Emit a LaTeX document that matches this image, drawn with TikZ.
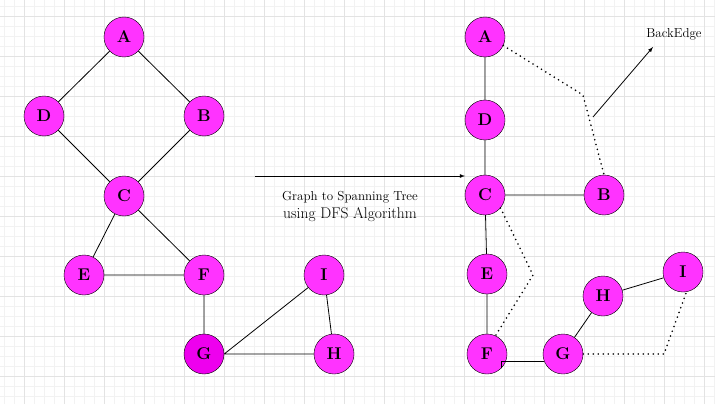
\documentclass[tikz,border=0pt]{standalone}
\usepackage{tikz}
\begin{document}
\begin{tikzpicture}[x=1pt,y=-1pt,
 v/.style={circle,draw=black,fill=magL,minimum size=40pt,inner sep=0pt,font=\bfseries\fontsize{17}{17}\selectfont},
 e/.style={draw=black,line width=0.8pt},
 bk/.style={draw=black,line width=1.8pt,line cap=round,dash pattern=on 0pt off 5pt}]
\definecolor{magL}{HTML}{FF33FF}
\definecolor{magD}{HTML}{EE00EE}
\useasboundingbox (0,0) rectangle (715,404);
\fill[white] (0,0) rectangle (715,404);
\foreach \x in {4,14,...,714} \draw[black!5,line width=0.5pt] (\x,0)--(\x,404);
\foreach \y in {6,16,...,404} \draw[black!5,line width=0.5pt] (0,\y)--(715,\y);
\foreach \x in {24,64,...,714} \draw[black!11,line width=0.6pt] (\x,0)--(\x,404);
\foreach \y in {16,56,...,404} \draw[black!11,line width=0.6pt] (0,\y)--(715,\y);
% left graph
\node[v] (A) at (124,37) {A};
\node[v] (D) at (44,116) {D};
\node[v] (B) at (204,116) {B};
\node[v] (C) at (124,196) {C};
\node[v] (E) at (84,275) {E};
\node[v] (F) at (204,275) {F};
\node[v] (I) at (324,275) {I};
\node[v,fill=magD] (G) at (204,354) {G};
\node[v] (H) at (334,354) {H};
\draw[e] (A)--(D) (A)--(B) (D)--(C) (B)--(C) (C)--(E) (C)--(F) (E)--(F) (F)--(G) (G.east)--(I) (G)--(H) (I)--(H);
% arrow
\coordinate (s) at (255,176); \coordinate (t) at (465,176);
\draw[e,-latex] (s)--(t);
\node[font=\fontsize{13}{18}\selectfont,align=center] (lab) at (350,207) {Graph to Spanning Tree\\ \fontsize{15.5}{18}\selectfont using DFS Algorithm};
% right tree
\node[v] (A2) at (485,37) {A};
\node[v] (D2) at (485,120) {D};
\node[v] (C2) at (485,195) {C};
\node[v] (B2) at (604,195) {B};
\node[v] (E2) at (487,274) {E};
\node[v] (F2) at (487,354) {F};
\node[v] (G2) at (563,354) {G};
\node[v] (H2) at (603,296) {H};
\node[v] (I2) at (683,272) {I};
\draw[e] (A2)--(D2) (D2)--(C2) (C2)--(B2) (C2)--(E2) (E2)--(F2) (G2)--(H2) (H2)--(I2);
\draw[e] (F2.-45) |- (G2.-160);
\coordinate (k1) at (583,95);
\coordinate (k2) at (533,275);
\coordinate (k3) at (664,354);
\draw[bk] (A2.-25)--(k1)--(B2.north);
\draw[bk] (C2.-40)--(k2)--(F2.65);
\draw[bk] (G2.east)--(k3)--(I2.-80);
\coordinate (b1) at (593,117); \coordinate (b2) at (653,47);
\draw[e,-latex] (b1)--(b2);
\node[font=\fontsize{13}{15}\selectfont] (bl) at (674,34) {BackEdge};
\end{tikzpicture}
\end{document}
